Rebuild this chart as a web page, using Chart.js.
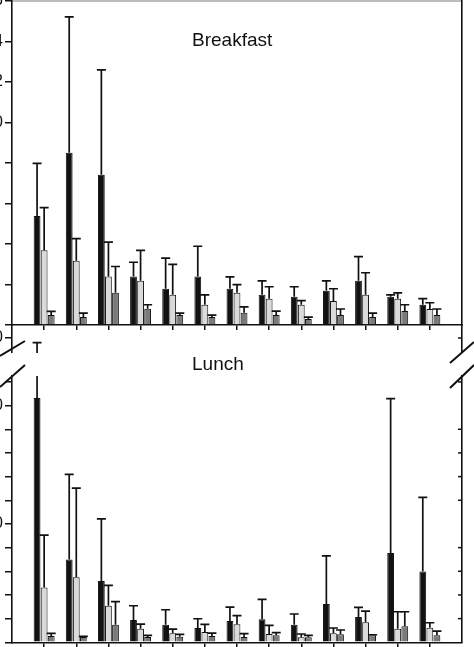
<!DOCTYPE html>
<html>
<head>
<meta charset="utf-8">
<script src="https://cdn.jsdelivr.net/npm/chart.js@4.4.1/dist/chart.umd.min.js"></script>
<style>
html,body{margin:0;padding:0;background:#fff;overflow:hidden;width:474px;height:647px;}
#wrap{position:relative;width:474px;height:647px;overflow:hidden;background:#fff;}
canvas{position:absolute;}
.ttl{position:absolute;font-family:"Liberation Sans",Arial,sans-serif;font-size:19px;line-height:19px;color:#111;white-space:nowrap;}
svg{position:absolute;left:0;top:0;}
</style>
</head>
<body>
<div id="wrap">
  <div style="position:absolute;left:12px;top:0;width:450px;height:2px;background:#bdbdbd"></div>
  <canvas id="cA" width="514" height="340" style="left:-40px;top:0px"></canvas>
  <canvas id="cB" width="514" height="33" style="left:-40px;top:320px"></canvas>
  <canvas id="cC" width="514" height="294" style="left:-40px;top:366px"></canvas>
  <div class="ttl" style="left:192px;top:30px">Breakfast</div>
  <div class="ttl" style="left:192px;top:354px">Lunch</div>
  <svg width="474" height="647">
    <g stroke="#111" stroke-width="2">
      <line x1="0" y1="356" x2="25" y2="341"/>
      <line x1="0" y1="387" x2="25" y2="365"/>
      <line x1="450" y1="363" x2="474" y2="342"/>
      <line x1="450" y1="388" x2="474" y2="365"/>
    </g>
  </svg>
</div>
<script>
// ---------- data ----------
const groups = ['1','2','3','4','5','6','7','8','9','10','11','12','13'];

// Breakfast: means and upper error (SD)
const bfBlack   = [5.38, 8.51, 7.42, 2.40, 1.79, 2.40, 1.79, 1.49, 1.39, 1.69, 2.18, 1.39, 1.00];
const bfBlackSD = [2.60, 6.71, 5.18, 0.70, 1.51, 1.49, 0.59, 0.69, 0.50, 0.49, 1.20, 0.10, 0.30];
const bfLight   = [3.69, 3.17, 2.40, 2.18, 1.49, 1.00, 1.59, 1.30, 1.00, 1.18, 1.49, 1.30, 0.79];
const bfLightSD = [2.11, 1.10, 1.69, 1.51, 1.50, 0.49, 0.40, 0.59, 0.20, 0.61, 1.09, 0.29, 0.31];
const bfDark    = [0.49, 0.39, 1.59, 0.80, 0.49, 0.39, 0.61, 0.49, 0.30, 0.49, 0.39, 0.69, 0.49];
const bfDarkSD  = [0.18, 0.20, 1.30, 0.20, 0.10, 0.10, 0.29, 0.20, 0.09, 0.30, 0.20, 0.31, 0.30];

// Lunch: means and upper error (SD)
const luBlack   = [20.64, 7.00, 5.17, 1.88, 1.49, 1.21, 1.80, 1.94, 1.49, 3.23, 2.14, 7.54, 5.99];
const luBlackSD = [18.96, 7.18, 5.26, 1.21, 1.26, 0.78, 1.18, 1.69, 0.90, 4.08, 0.81, 13.05, 6.25];
const luLight   = [4.64, 5.49, 3.09, 1.15, 0.76, 0.87, 1.52, 0.70, 0.42, 0.76, 1.69, 1.15, 1.23];
const luLightSD = [4.41, 7.53, 1.72, 0.39, 0.36, 0.65, 0.73, 0.73, 0.28, 0.45, 0.95, 1.43, 0.42];
const luDark    = [0.53, 0.45, 1.49, 0.45, 0.47, 0.53, 0.45, 0.59, 0.42, 0.67, 0.59, 1.35, 0.59];
const luDarkSD  = [0.23, 0.05, 1.94, 0.14, 0.20, 0.25, 0.28, 0.22, 0.17, 0.37, 0.05, 1.23, 0.36];

// tick values
const bfTicks = [0, 2, 4, 6, 8, 10, 12, 14, 16];
const luTicks = [0, 2, 4, 6, 8, 10, 12, 14, 16, 18, 20, 22];
const luLabeled = [0, 10, 20];
const luUpperTicks = [40];

// ---------- helpers ----------
const xLabels = [''].concat(groups, ['']);
const pad = a => [null].concat(a, [null]);
const INK = '#111';
const colors = ['#121212', '#dadada', '#7a7a7a'];

function datasets(series) {
  return series.map((s, k) => ({
    label: 'S' + (k + 1),
    data: pad(s[0]),
    errors: pad(s[1]),
    backgroundColor: colors[k],
    borderColor: INK,
    borderWidth: 1,
    categoryPercentage: 0.66,
    barPercentage: 0.96
  }));
}

const errorBars = {
  id: 'errorBars',
  afterDatasetsDraw(chart) {
    const ctx = chart.ctx, a = chart.chartArea, ys = chart.scales.y;
    ctx.save();
    ctx.beginPath();
    ctx.rect(a.left, a.top, a.right - a.left, a.bottom - a.top);
    ctx.clip();
    ctx.strokeStyle = INK;
    ctx.lineWidth = 1.7;
    chart.data.datasets.forEach((ds, di) => {
      const meta = chart.getDatasetMeta(di);
      meta.data.forEach((el, i) => {
        const v = ds.data[i], e = ds.errors[i];
        if (v == null || e == null) return;
        const x = el.x;
        const y0 = ys.getPixelForValue(v);
        const y1 = ys.getPixelForValue(v + e);
        ctx.beginPath();
        ctx.moveTo(x, y0); ctx.lineTo(x, y1);
        ctx.moveTo(x - 4.5, y1); ctx.lineTo(x + 4.5, y1);
        ctx.stroke();
      });
    });
    ctx.restore();
  }
};

const innerTicks = {
  id: 'innerTicks',
  afterDraw(chart, args, opts) {
    if (!opts || !opts.values) return;
    const ctx = chart.ctx, s = chart.scales.y, r = chart.chartArea.right;
    ctx.save();
    ctx.strokeStyle = INK;
    ctx.lineWidth = 1.5;
    opts.values.forEach(v => {
      const y = s.getPixelForValue(v);
      ctx.beginPath(); ctx.moveTo(r - 4, y); ctx.lineTo(r, y); ctx.stroke();
    });
    ctx.restore();
  }
};

function yScale(min, max, vals, labelFn) {
  return {
    type: 'linear', position: 'left', min, max,
    afterBuildTicks: s => { s.ticks = vals.map(v => ({ value: v })); },
    afterFit: s => { s.width = 52; s.paddingTop = 0; s.paddingBottom = 0; },
    ticks: {
      display: true, color: INK, padding: 2, crossAlign: 'center',
      font: { family: 'Liberation Sans', size: 16 },
      callback: labelFn
    },
    grid: { display: true, drawOnChartArea: false, drawTicks: true, tickLength: 7, color: INK, lineWidth: 1.5 },
    border: { display: true, color: INK, width: 1.6 }
  };
}
function rightScale(min, max) {
  return {
    type: 'linear', position: 'right', min, max, display: true,
    ticks: { display: false },
    grid: { display: false },
    border: { display: true, color: INK, width: 1.6 },
    afterFit: s => { s.width = 0; s.paddingTop = 0; s.paddingBottom = 0; }
  };
}
function xScale(h, show) {
  return {
    type: 'category', offset: false, display: show,
    afterBuildTicks: s => { s.ticks = s.ticks.filter(t => t.value >= 1 && t.value <= groups.length); },
    afterFit: s => { s.height = h; s.paddingLeft = 0; s.paddingRight = 0; },
    ticks: { display: false },
    grid: { display: true, offset: false, drawOnChartArea: false, drawTicks: true, tickLength: 5, color: INK, lineWidth: 1.5 },
    border: { display: true, color: INK, width: 1.6 }
  };
}

function make(id, series, padTop, xh, xshow, ymin, ymax, yvals, labelFn, inner) {
  return new Chart(document.getElementById(id), {
    type: 'bar',
    data: { labels: xLabels, datasets: datasets(series) },
    options: {
      responsive: false, animation: false, events: [],
      layout: { padding: { top: padTop, right: 12, left: 0, bottom: 0 } },
      plugins: { legend: { display: false }, tooltip: { enabled: false }, innerTicks: { values: inner } },
      scales: { x: xScale(xh, xshow), y: yScale(ymin, ymax, yvals, labelFn), y2: rightScale(ymin, ymax) }
    },
    plugins: [errorBars, innerTicks]
  });
}

const bfSeries = [[bfBlack, bfBlackSD], [bfLight, bfLightSD], [bfDark, bfDarkSD]];
const luSeries = [[luBlack, luBlackSD], [luLight, luLightSD], [luDark, luDarkSD]];

// Breakfast panel
make('cA', bfSeries, 1, 15, true, 0, 16, bfTicks, v => String(v), null);
// Lunch panel, part above the axis break
make('cB', luSeries, 5, 0, false, 38.73, 41.1, luUpperTicks, v => String(v), luUpperTicks);
// Lunch panel, part below the axis break
make('cC', luSeries, 10, 17.7, true, 0, 22.5, luTicks,
     v => (luLabeled.includes(v) ? String(v) : ''),
     luTicks.filter(v => v !== 0 && !luLabeled.includes(v)));
</script>
</body>
</html>
